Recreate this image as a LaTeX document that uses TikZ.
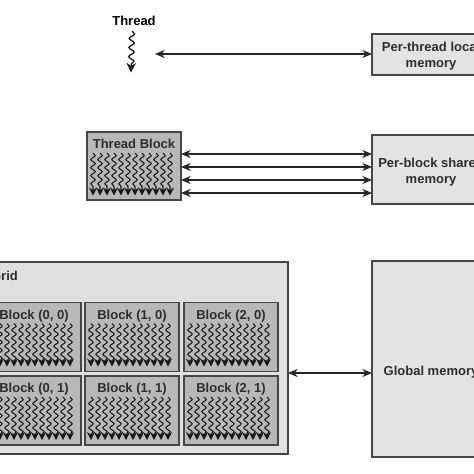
\documentclass[tikz,border=0pt]{standalone}
\usepackage{fontspec}
\setmainfont{Liberation Sans}
\usepackage{xcolor}
\usetikzlibrary{arrows.meta, calc, decorations.pathmorphing}
\definecolor{boxline}{RGB}{70,70,70}
\definecolor{memfill}{RGB}{227,227,227}
\definecolor{gridfill}{RGB}{224,224,224}
\definecolor{blockfill}{RGB}{184,184,184}
\definecolor{labeltext}{RGB}{45,45,45}

\begin{document}
\begin{tikzpicture}[
    membox/.style={rectangle, draw=boxline, line width=0.7pt, fill=memfill, minimum width=2.36cm,
                   inner sep=0pt, outer sep=0pt},
    memlabel/.style={inner sep=0pt, align=center, text=labeltext, font=\memfont},
    blockbox/.style={rectangle, draw=boxline, line width=0.7pt, fill=blockfill, minimum width=1.88cm,
                     minimum height=1.38cm, inner sep=0pt, outer sep=0pt},
    blocklabel/.style={anchor=north, inner sep=0pt, text=labeltext, font=\memfont},
    arrow/.style={{Stealth[length=5.5pt,width=4.6pt]}-{Stealth[length=5.5pt,width=4.6pt]}, line width=0.85pt, black!85},
    threadline/.style={-{Stealth[length=4.5pt,width=4.6pt]}, line width=0.6pt, black!90,
                       decorate, decoration={snake, amplitude=1.25pt, segment length=4.6pt, post length=3pt}},
    bigthread/.style={-{Stealth[length=5.5pt,width=5.5pt]}, line width=0.75pt, black!90,
                      decorate, decoration={snake, amplitude=1.5pt, segment length=5.2pt, post length=3.5pt}}
]
\def\memfont{\fontsize{7.4}{8.6}\selectfont\bfseries}
\useasboundingbox (0,0) rectangle (9.48,9.48);
\clip (0,0) rectangle (9.48,9.48);
%% Single thread
\node[font=\memfont, inner sep=0pt] (thread) at (2.68,9.06) {Thread};
\coordinate (threadtop) at (2.64,8.86);
\coordinate (threadend) at (2.62,8.03);
\draw[bigthread] (threadtop) -- (threadend);
%% Memory boxes
\node[membox, minimum height=0.82cm] (perthread) at (8.62,8.39) {};
\node[memlabel] (perthreadlabel) at (8.62,8.35) {Per-thread local\\[0.5pt]memory};
\node[membox, minimum height=1.38cm] (perblock) at (8.62,6.09) {};
\node[memlabel] (perblocklabel) at (8.62,6.03) {Per-block shared\\[0.5pt]memory};
\node[membox, minimum height=3.92cm] (global) at (8.62,2.30) {};
\node[memlabel] (globallabel) at (8.62,2.04) {Global memory};
\coordinate (threadport) at (3.1,8.4);
\draw[arrow] (threadport) -- (perthread.west |- threadport);
%% Thread block
\node[blockbox, minimum height=1.36cm,
      label={[blocklabel, name=threadblocklabel, yshift=-0.14cm]north:Thread Block}]
      (threadblock) at (2.68,6.16) {};
\foreach \dx in {-0.82,-0.68,...,0.74} {
    \draw[threadline] ($(threadblock.north)+(\dx,-0.42)$) -- ($(threadblock.north)+(\dx,-1.27)$);
}
\foreach \i/\ypos in {1/6.40, 2/6.14, 3/5.88, 4/5.62} {
    \coordinate (blockport\i) at (threadblock.east |- 0,\ypos);
    \draw[arrow] (blockport\i) -- (perblock.west |- blockport\i);
}
%% Grid with six blocks
\node[rectangle, draw=boxline, line width=0.7pt, fill=gridfill, minimum width=6.22cm, minimum height=3.84cm,
      inner sep=0pt, outer sep=0pt] (grid) at (2.65,2.32) {};
\node[font=\memfont, text=labeltext, inner sep=0pt] (gridlabel) at (0.09,3.96) {Grid};
\foreach \col/\xpos in {0/0.68, 1/2.64, 2/4.62} {
    \foreach \row/\ypos in {0/2.74, 1/1.27} {
        \node[blockbox, label={[blocklabel, name=blocklabel\col\row, yshift=-0.14cm]north:Block (\col, \row)}]
            (block\col\row) at (\xpos,\ypos) {};
        \foreach \dx in {-0.82,-0.68,...,0.74} {
            \draw[threadline] ($(block\col\row.north)+(\dx,-0.42)$) -- ($(block\col\row.north)+(\dx,-1.28)$);
        }
    }
}
\coordinate (gridport) at (grid.east |- 0,2.02);
\draw[arrow] (gridport) -- (global.west |- gridport);
\end{tikzpicture}
\end{document}
